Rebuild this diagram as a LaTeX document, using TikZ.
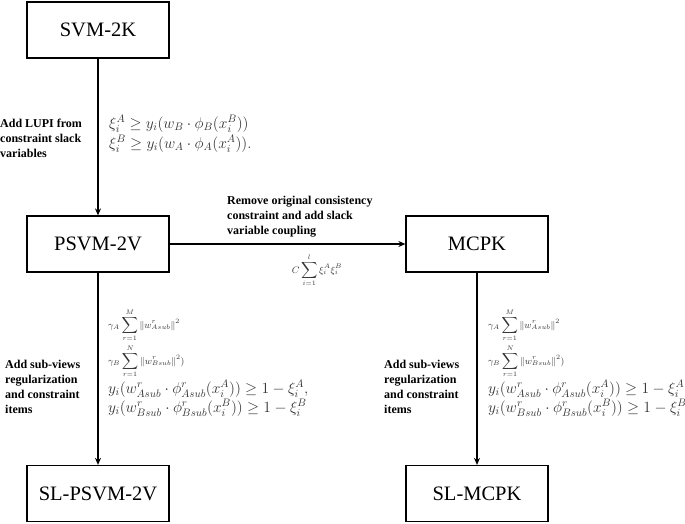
\RequirePackage{fix-cm}
\documentclass[tikz,border=0pt]{standalone}
\usepackage{amsmath, amssymb}
\usepackage{graphicx}
\usepackage{fontspec}
\setmainfont{Liberation Serif}
\usetikzlibrary{arrows.meta}

\newcommand{\bigsum}{\mathop{\scalebox{1.2}{$\displaystyle\sum$}}\limits}

\tikzset{
    model/.style={draw, line width=1.2pt, minimum width=142pt, minimum height=56pt, inner sep=0pt, font=\fontsize{20.5}{24}\selectfont},
    link/.style={line width=1.2pt, -{Stealth[length=7pt, width=6pt]}},
    note/.style={align=left, anchor=west, inner sep=0pt, font=\fontsize{12}{15}\selectfont\bfseries},
    formula/.style={anchor=west, inner sep=0pt, text=black!80, font=\fontsize{15.5}{18}\selectfont},
    small formula/.style={formula, font=\fontsize{9.5}{11}\selectfont},
}

\begin{document}
\begin{tikzpicture}[x=1pt, y=-1pt]
    \useasboundingbox (0,0) rectangle (685,523);

    % Models
    \node[model] (svm) at (98,30) {SVM-2K};
    \node[model] (psvm) at (98,244) {PSVM-2V};
    \node[model] (mcpk) at (477,244) {MCPK};
    \node[model] (slpsvm) at (98,493.5) {SL-PSVM-2V};
    \node[model] (slmcpk) at (477,493.5) {SL-MCPK};

    % Connections
    \draw[link] (svm) -- (psvm);
    \draw[link] (psvm) -- (mcpk);
    \draw[link] (psvm) -- (slpsvm);
    \draw[link] (mcpk) -- (slmcpk);

    % Step 1: LUPI
    \node[note] (lupi) at (0,138) {Add LUPI from\\constraint slack\\variables};
    \node[formula] (slackA) at (109,124) {$\xi_i^A \geq y_i(w_B\cdot\phi_B(x_i^B))$};
    \node[formula] (slackB) at (109,144) {$\xi_i^B \geq y_i(w_A\cdot\phi_A(x_i^A)).$};

    % Step 2: coupling
    \node[note] (remove) at (227,217) {Remove original consistency\\constraint and add slack\\variable coupling};
    \node[small formula, anchor=center] (coupling) at (317,270) {$\displaystyle C\bigsum_{i=1}^{l}\xi_i^A\xi_i^B$};

    % Step 3: sub-views
    \node[note] (subL) at (5,386.5) {Add sub-views\\regularization\\and constraint\\items};
    \node[note] (subR) at (384,386.5) {Add sub-views\\regularization\\and constraint\\items};
    \foreach \side/\x in {L/108, R/488} {
        \node[small formula] (regA\side) at (\x,325) {$\displaystyle\gamma_A\bigsum_{r=1}^{M}\|w^r_{Asub}\|^2$};
        \node[small formula] (regB\side) at (\x,361) {$\displaystyle\gamma_B\bigsum_{r=1}^{N}\|w^r_{Bsub}\|^2)$};
        \node[formula] (conA\side) at (\x,389) {$y_i(w^r_{Asub}\cdot\phi^r_{Asub}(x_i^A))\geq 1-\xi_i^A,$};
        \node[formula] (conB\side) at (\x,408) {$y_i(w^r_{Bsub}\cdot\phi^r_{Bsub}(x_i^B))\geq 1-\xi_i^B$};
    }
\end{tikzpicture}
\end{document}
